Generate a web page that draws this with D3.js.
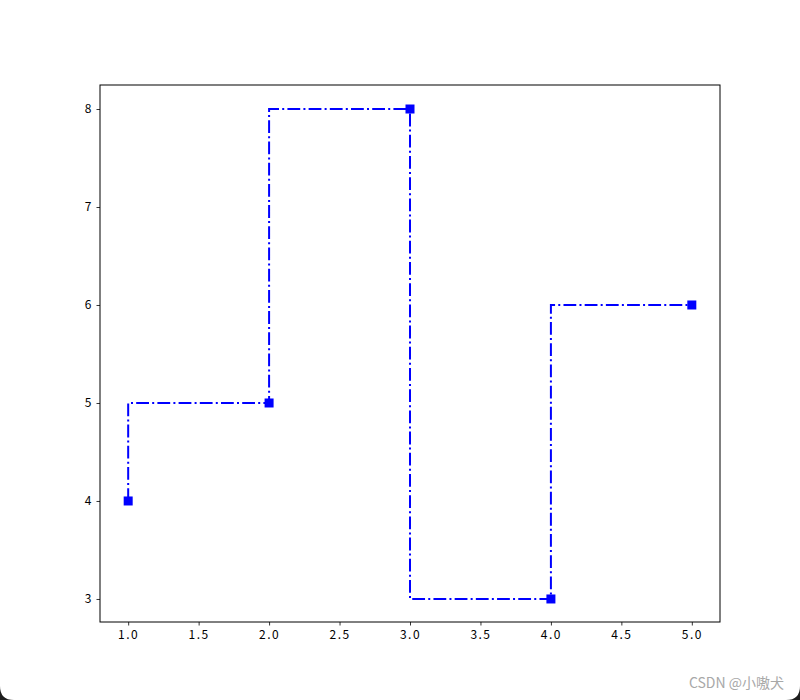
<!DOCTYPE html>
<meta charset="utf-8">
<style>
body { margin: 0; background: #fff; }
svg text { font-family: "Noto Sans CJK SC", "DejaVu Sans", sans-serif; }
</style>
<body>
<script src="https://cdn.jsdelivr.net/npm/d3@7/dist/d3.min.js"></script>
<script>
// data
var xs = [1, 2, 3, 4, 5];
var ys = [4, 5, 8, 3, 6];
var xTicks = [1.0, 1.5, 2.0, 2.5, 3.0, 3.5, 4.0, 4.5, 5.0];
var yTicks = [3, 4, 5, 6, 7, 8];

var W = 800, H = 700;
var box = {left: 100, top: 85, right: 720, bottom: 622};

var svg = d3.select("body").append("svg")
    .attr("width", W).attr("height", H);

// dark rounded corners at the bottom of the screenshot
svg.append("rect").attr("width", W).attr("height", H).attr("fill", "#1e1e1e");
svg.append("path")
    .attr("d", "M0,0H" + W + "V" + (H - 14) + "Q" + W + "," + H + " " + (W - 14) + "," + H +
         "H14Q0," + H + " 0," + (H - 14) + "Z")
    .attr("fill", "#fff");

var x = d3.scaleLinear().domain([0.8, 5.2]).range([box.left, box.right]);
var y = d3.scaleLinear().domain([2.765, 8.245]).range([box.bottom, box.top]);

var pts = xs.map(function (d, i) { return [d, ys[i]]; });

// step line, matplotlib "pre" style
svg.append("path")
    .datum(pts)
    .attr("d", d3.line().x(function (d) { return x(d[0]); })
        .y(function (d) { return y(d[1]); }).curve(d3.curveStepBefore))
    .attr("fill", "none")
    .attr("stroke", "#0000ff")
    .attr("stroke-width", 2)
    .attr("stroke-dasharray", "12.8,3.2,2,3.2");

svg.selectAll(".mk").data(pts).enter().append("rect")
    .attr("x", function (d) { return x(d[0]) - 4.5; })
    .attr("y", function (d) { return y(d[1]) - 4.5; })
    .attr("width", 9).attr("height", 9)
    .attr("fill", "#0000ff");

// axes
var gx = svg.append("g")
    .attr("transform", "translate(0," + box.bottom + ")")
    .call(d3.axisBottom(x).tickValues(xTicks).tickSize(3.5).tickPadding(5)
        .tickFormat(d3.format(".1f")));
var gy = svg.append("g")
    .attr("transform", "translate(" + box.left + ",0)")
    .call(d3.axisLeft(y).tickValues(yTicks).tickSize(3.5).tickPadding(5)
        .tickFormat(d3.format("d")));
[gx, gy].forEach(function (g) {
    g.select(".domain").remove();
    g.selectAll("text").attr("font-size", 12).attr("fill", "#000")
        .attr("font-family", '"Noto Sans CJK SC", sans-serif');
    g.selectAll("line").attr("stroke", "#000").attr("stroke-width", 0.8);
});
gx.selectAll("text").attr("letter-spacing", 1.5);

svg.append("rect")
    .attr("x", box.left).attr("y", box.top)
    .attr("width", box.right - box.left).attr("height", box.bottom - box.top)
    .attr("fill", "none").attr("stroke", "#000").attr("stroke-width", 1);

// watermark
svg.append("text")
    .attr("x", 784).attr("y", 688)
    .attr("text-anchor", "end")
    .attr("font-size", 14)
    .attr("fill", "#a8a8a8")
    .text("CSDN @小嗷犬");
</script>
</body>
